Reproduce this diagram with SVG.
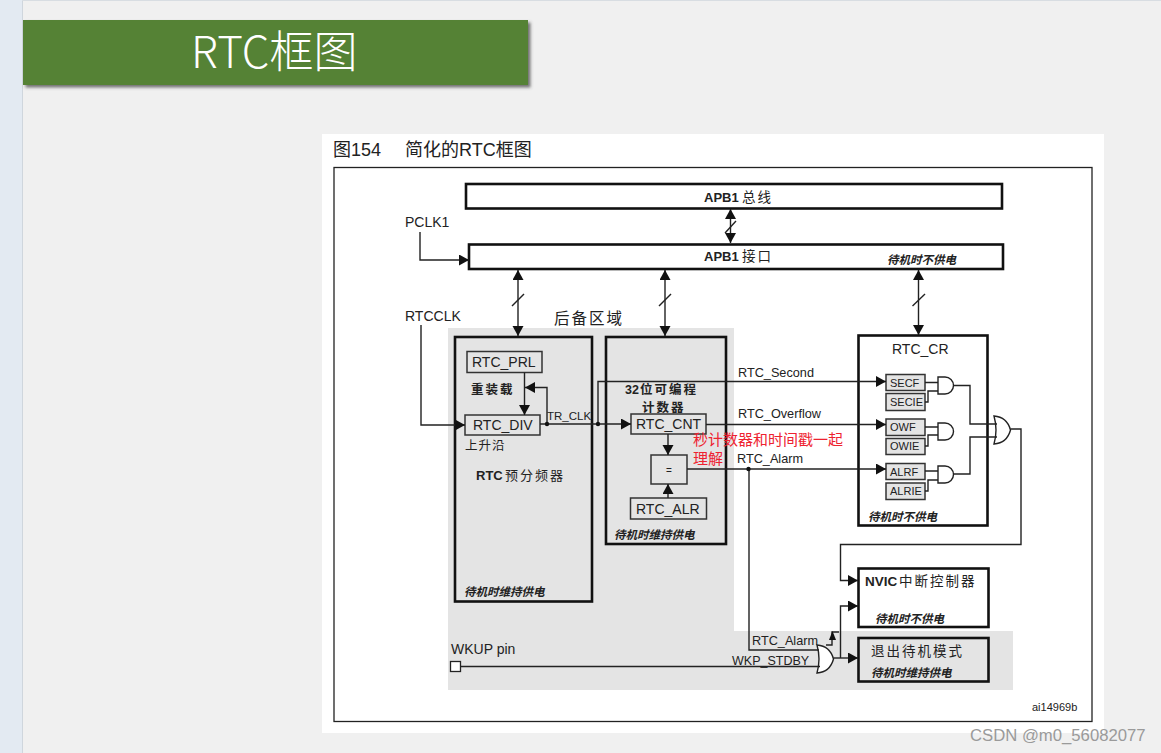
<svg xmlns="http://www.w3.org/2000/svg" width="1161" height="753" viewBox="0 0 1161 753">
<defs>
<marker id="a" markerUnits="userSpaceOnUse" markerWidth="12" markerHeight="12" refX="10" refY="5.5" orient="auto-start-reverse"><path d="M0,0L10,5.5L0,11Z" fill="#111"/></marker>
<filter id="sh" x="-5%" y="-20%" width="110%" height="140%"><feDropShadow dx="2.5" dy="2.5" stdDeviation="1.5" flood-color="#555" flood-opacity=".8"/></filter>
</defs>
<style>
text{font-family:"Liberation Sans","Noto Sans CJK SC",sans-serif;fill:#222}
.cn{font-family:"Noto Sans CJK SC","Liberation Sans",sans-serif}
.b{font-weight:bold}
.it{font-family:"Noto Sans CJK SC",sans-serif;font-style:italic;font-weight:bold;font-size:11.5px}
.frame{fill:none;stroke:#111;stroke-width:2.6}
.reg{fill:#e4e4e4;stroke:#333;stroke-width:1.5}
.wire{fill:none;stroke:#222;stroke-width:1.4}
.arr{marker-end:url(#a)}
.both{marker-start:url(#a);marker-end:url(#a)}
.gate{fill:#fff;stroke:#222;stroke-width:1.4}
.lab{font-size:12.700px}
.m{font-size:14px}
.f{font-size:11px}
.red{font-family:"Noto Sans CJK SC",sans-serif;font-size:15px;fill:#ee2230}
</style>

<rect width="1161" height="753" fill="#f0f0f0"/>
<rect width="22" height="753" fill="#e3eaf2"/>
<rect x="22" width="1" height="753" fill="#cfd6dd"/>
<rect x="22" width="1139" height="1" fill="#d8dde2"/>

<g id="title">
<rect x="23" y="20" width="505" height="65" fill="#548235" filter="url(#sh)"/>
<text class="cn" x="191" y="68" font-size="44" font-weight="300" style="fill:#fff">RTC框图</text>
</g>

<rect x="322" y="134" width="782" height="599" fill="#fff"/>
<text class="cn" x="333" y="156" font-size="18">图<tspan font-family="Liberation Sans">154</tspan></text>
<text class="cn" x="405" y="156" font-size="18">简化的<tspan font-family="Liberation Sans">RTC</tspan>框图</text>
<rect x="334" y="167.500" width="758" height="554" fill="none" stroke="#222" stroke-width="1.3"/>

<path id="backup-zone" d="M448,328H734V631H1013V690H448Z" fill="#e4e4e4"/>
<text class="cn" x="554" y="324" font-size="15.500" letter-spacing="2">后备区域</text>

<g id="apb-bus"><rect class="frame" x="466" y="184" width="536" height="24.500" fill="none"/>
<text class="b" x="704" y="202" font-size="13">APB1</text><text class="cn" x="742" y="202" font-size="13.500" letter-spacing="2">总线</text></g>
<g id="apb-if"><rect class="frame" x="469" y="244.500" width="534" height="24.500"/>
<text class="b" x="704" y="261" font-size="13">APB1</text><text class="cn" x="742" y="261" font-size="13.500" letter-spacing="2">接口</text>
<text class="it" x="887" y="264">待机时不供电</text></g>

<g id="prescaler"><rect class="frame" x="455" y="337" width="137" height="264.500"/>
<text class="cn b" x="471" y="394" font-size="12.500" letter-spacing="2">重装载</text>
<text class="cn" x="465" y="450" font-size="12.500" letter-spacing="1">上升沿</text>
<text class="b" x="476" y="480" font-size="13">RTC</text><text class="cn" x="505" y="480" font-size="13" letter-spacing="2">预分频器</text>
<text class="it" x="464" y="596">待机时维持供电</text></g>
<g id="rtc-prl"><rect class="reg" x="467" y="351.500" width="75" height="21"/><text class="m" x="472" y="367">RTC_PRL</text></g>
<g id="rtc-div"><rect class="reg" x="465" y="415" width="75" height="20"/><text class="m" x="473" y="430">RTC_DIV</text></g>

<g id="counter"><rect class="frame" x="606" y="337" width="120" height="207"/>
<text class="b" x="625" y="394" font-size="12.500">32</text><text class="cn b" x="640" y="394" font-size="12.500" letter-spacing="2">位可编程</text>
<text class="cn b" x="642" y="411.500" font-size="12.500" letter-spacing="2">计数器</text>
<text class="it" x="614" y="539">待机时维持供电</text></g>
<g id="rtc-cnt"><rect class="reg" x="631" y="414" width="75" height="20"/><text class="m" x="636" y="429">RTC_CNT</text></g>
<g id="cmp"><rect class="reg" x="651" y="455" width="36" height="29"/><text x="666" y="474" font-size="10">=</text></g>
<g id="rtc-alr"><rect class="reg" x="630.500" y="498" width="76" height="21"/><text class="m" x="636" y="514">RTC_ALR</text></g>

<g id="rtc-cr"><rect class="frame" x="858.500" y="335.500" width="129" height="190"/>
<text x="892" y="354" font-size="14">RTC_CR</text>
<text class="it" x="868" y="521">待机时不供电</text></g>
<g id="secf"><rect class="reg" x="886" y="374.500" width="39" height="16"/><text class="f" x="890" y="387">SECF</text></g>
<g id="secie"><rect class="reg" x="886" y="393.500" width="39" height="17"/><text class="f" x="890" y="406">SECIE</text></g>
<g id="owf"><rect class="reg" x="886" y="419" width="39" height="16.500"/><text class="f" x="890" y="431">OWF</text></g>
<g id="owie"><rect class="reg" x="886" y="438.500" width="39" height="16"/><text class="f" x="890" y="450">OWIE</text></g>
<g id="alrf"><rect class="reg" x="886" y="463.500" width="39" height="16"/><text class="f" x="890" y="476">ALRF</text></g>
<g id="alrie"><rect class="reg" x="886" y="483" width="39" height="16.500"/><text class="f" x="890" y="495">ALRIE</text></g>

<g id="nvic"><rect class="frame" x="858.500" y="568.500" width="130" height="58.500"/>
<text class="b" x="865" y="586" font-size="13.500">NVIC</text><text class="cn" x="899" y="586" font-size="13.500" letter-spacing="2">中断控制器</text>
<text class="it" x="875" y="623">待机时不供电</text></g>
<g id="standby"><rect class="frame" x="858.500" y="638" width="130" height="43.500"/>
<text class="cn" x="871" y="656" font-size="13.500" letter-spacing="2">退出待机模式</text>
<text class="it" x="871" y="677">待机时维持供电</text></g>

<g id="wkup"><rect x="450.500" y="661.500" width="10" height="10" fill="#fff" stroke="#222" stroke-width="1.300"/>
<text x="451" y="654" style="font-size:14px">WKUP pin</text></g>

<g id="gates">
<path class="gate" d="M938,377h7a8.500,8.500 0 0 1 0,17h-7Z"/>
<path class="gate" d="M938,423h7a8.500,8.500 0 0 1 0,17h-7Z"/>
<path class="gate" d="M938,466h7a8.500,8.500 0 0 1 0,17h-7Z"/>
<path class="gate" d="M994,416q13,1 16.500,14q-3.500,13 -16.500,14q4,-14 0,-28Z"/>
<path class="gate" d="M817,645q13,1 16.500,14q-3.500,13 -16.500,14q4,-14 0,-28Z"/>
</g>

<g id="connectors">
<path class="wire both" d="M730.500,209V243"/><path class="wire" d="M725,233L736,221"/>
<path class="wire both" d="M518,270V336"/><path class="wire" d="M512,306L524,294"/>
<path class="wire both" d="M665,270V336"/><path class="wire" d="M659,306L671,294"/>
<path class="wire both" d="M918.500,270V335"/><path class="wire" d="M912.500,306L925,294"/>
<path class="wire arr" d="M420,232V260H469"/>
<path class="wire arr" d="M421,325V425H465"/>
<path class="wire arr" d="M524.500,372.500V415"/>
<path class="wire arr" d="M547,424V387.500H525"/>
<path class="wire arr" d="M540,424H631"/>
<path class="wire arr" d="M598,424V381.500H886"/>
<path class="wire arr" d="M706,424.500H886"/>
<path class="wire arr" d="M687,469H886"/>
<path class="wire arr" d="M668,434V455"/>
<path class="wire arr" d="M668,498V484"/>
<path class="wire" d="M749,469V650H819"/>
<path class="wire" d="M461,666.500H820"/>
<path class="wire" d="M925,382.500H938M925,402H928V391H938"/>
<path class="wire" d="M925,427H938M925,446H928V435H938"/>
<path class="wire" d="M925,471H938M925,491H928V480H938"/>
<path class="wire" d="M954,385.500H970V424H997M954,474H970V437H997"/>
<path class="wire arr" d="M1010.500,429H1021V544.500H840.500V580.500H858"/>
<path class="wire arr" d="M840.500,658V606H858"/>
<path class="wire arr" d="M833.500,658H858"/>
<path class="wire" d="M826,645H832V632H839"/>
<path d="M829,640L832.500,631L836,640Z" fill="#111"/>
<circle cx="547" cy="424" r="2.200" fill="#111"/>
<circle cx="598" cy="424" r="2.200" fill="#111"/>
<circle cx="748.500" cy="469" r="2.200" fill="#111"/>
</g>

<g id="labels">
<text x="405" y="227" style="font-size:14px">PCLK1</text>
<text x="405" y="321" style="font-size:14px">RTCCLK</text>
<text x="547" y="420" style="font-size:11.500px">TR_CLK</text>
<text class="lab" x="738" y="377">RTC_Second</text>
<text class="lab" x="738" y="418">RTC_Overflow</text>
<text class="lab" x="737" y="463">RTC_Alarm</text>
<text class="lab" x="752" y="645">RTC_Alarm</text>
<text x="732" y="665" font-size="12.500">WKP_STDBY</text>
<text x="1032" y="711" font-size="11">ai14969b</text>
<text class="red" x="693" y="445">秒计数器和时间戳一起</text>
<text class="red" x="693" y="464">理解</text>
<text x="970" y="741" font-size="16.700" style="fill:#9a9a9a">CSDN @m0_56082077</text>
</g>
</svg>
